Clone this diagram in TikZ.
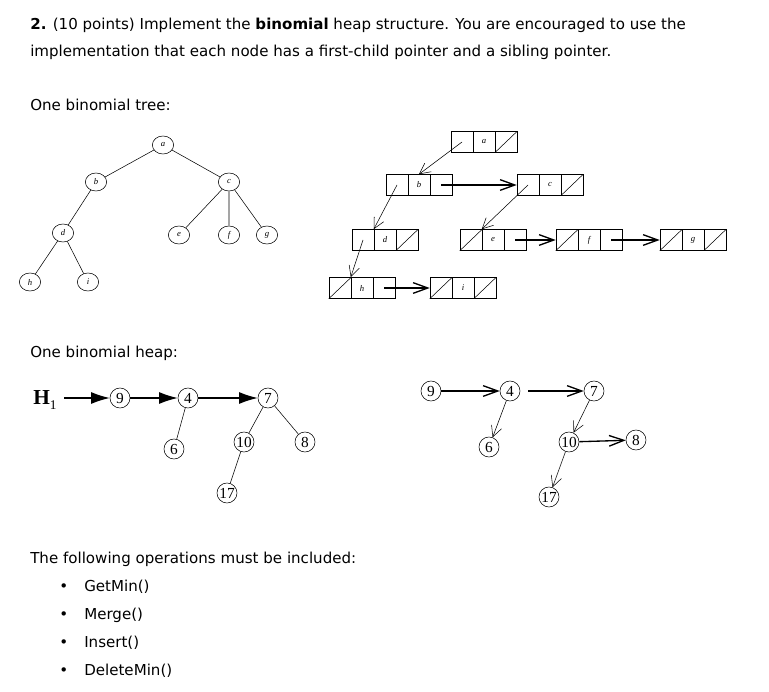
\documentclass[tikz,border=0pt]{standalone}
\usepackage{fontspec}
\setmainfont{DejaVu Sans}
\newfontfamily\tnr{Liberation Serif}
\usetikzlibrary{arrows.meta,shapes.geometric}
\begin{document}
\begin{tikzpicture}[x=0.75pt,y=-0.75pt,
  txt/.style={anchor=base west,inner sep=0,font=\fontsize{11.3}{13}\selectfont},
  tn/.style={ellipse,draw,thin,minimum width=16pt,minimum height=13.5pt,inner sep=0,font=\tnr\itshape\fontsize{6.5}{7}\selectfont},
  cell/.style={draw,thin,minimum width=16.5pt,minimum height=15.75pt,inner sep=0,font=\tnr\itshape\fontsize{6.5}{7}\selectfont},
  hn/.style={circle,draw,thin,minimum size=15pt,inner sep=0,font=\tnr\fontsize{11.5}{12}\selectfont},
  ptr/.style={-{Straight Barb[length=8pt,width=8pt]},thin},
  hptr/.style={-{Straight Barb[length=11pt,width=8pt]},line width=1pt},
  big/.style={-{Latex[length=14pt,width=9pt]},line width=0.9pt}]
\useasboundingbox (0,0) rectangle (769,692);
% text
\node[txt] (t1) at (30,30) {\textbf{2.} (10 points) Implement the \textbf{binomial} heap structure. You are encouraged to use the};
\node[txt] (t2) at (30,57) {implementation that each node has a first-child pointer and a sibling pointer.};
\node[txt] (t3) at (30,111) {One binomial tree:};
\node[txt] (t4) at (30,358) {One binomial heap:};
\node[txt] (t5) at (30,563) {The following operations must be included:};
\foreach \y/\s [count=\k] in {591/GetMin(),619/Merge(),647/Insert(),675/DeleteMin()}{
  \node[txt] (bl\k) at (59,\y) {•};
  \node[txt] (op\k) at (84,\y) {\s};
}
% left tree
\node[tn] (a) at (163,145) {a};
\node[tn] (b) at (96,182) {b};
\node[tn] (c) at (229,182) {c};
\node[tn] (d) at (63,233) {d};
\node[tn] (e) at (179,235) {e};
\node[tn] (f) at (229,235) {f};
\node[tn] (g) at (267,235) {g};
\node[tn] (h) at (30,282) {h};
\node[tn] (i) at (88,282) {i};
\draw[thin] (a)--(b) (a)--(c) (b)--(d) (c)--(e) (c)--(f) (c)--(g) (d)--(h) (d)--(i);
% linked structure
\foreach \n/\x/\y/\l in {A/462/142/a,B/397/185/b,C/528/185/c,D/363/240/d,E/471/240/e,F/567/240/f,G/671/240/g,H/340/288/h,I/441/288/i}{
  \node[cell] (\n1) at (\x,\y) {};
  \node[cell] (\n2) at (\x+22,\y) {\l};
  \node[cell] (\n3) at (\x+44,\y) {};
}
\foreach \n in {A3,C3,D3,E1,F1,G1,G3,H1,I1,I3}{
  \draw[thin] (\n.south west)--(\n.north east);
}
\draw[ptr] (A1.center)--(B2.north);
\draw[ptr] (B1.center)--(D2.north west);
\draw[ptr] (C1.center)--(E2.north west);
\draw[ptr] (D1.center)--(H2.north west);
\draw[hptr] (B3.center)--(C1.west);
\draw[hptr] (E3.center)--(F1.west);
\draw[hptr] (F3.center)--(G1.west);
\draw[hptr] (H3.center)--(I1.west);
% left heap
\node[anchor=base west,inner sep=0,font=\tnr\bfseries\fontsize{16}{16}\selectfont] (H1) at (33,404) {H\raisebox{-4pt}{\normalfont\tnr\fontsize{10}{10}\selectfont 1}};
\coordinate (hs) at (64,398);
\node[hn] (n9) at (120,398) {9};
\node[hn] (n4) at (188,398) {4};
\node[hn] (n7) at (268,398) {7};
\node[hn] (n6) at (174,449) {6};
\node[hn] (n10) at (244,442) {10};
\node[hn] (n8) at (305,442) {8};
\node[hn] (n17) at (227,493) {17};
\draw[big] (hs)--(n9);
\draw[big] (n9)--(n4);
\draw[big] (n4)--(n7);
\draw[thin] (n4)--(n6) (n7)--(n10) (n7)--(n8) (n10)--(n17);
% right heap
\node[hn] (m9) at (431,391) {9};
\node[hn] (m4) at (510,391) {4};
\node[hn] (m7) at (594,391) {7};
\node[hn] (m6) at (489,447) {6};
\node[hn] (m10) at (569,442) {10};
\node[hn] (m8) at (636,440) {8};
\node[hn] (m17) at (549,497) {17};
\draw[hptr] (m9)--(m4);
\draw[hptr,shorten <=6pt] (m4)--(m7);
\draw[hptr] (m10)--(m8);
\draw[ptr] (m4)--(m6);
\draw[ptr] (m7)--(m10);
\draw[ptr] (m10)--(m17);
\end{tikzpicture}
\end{document}
